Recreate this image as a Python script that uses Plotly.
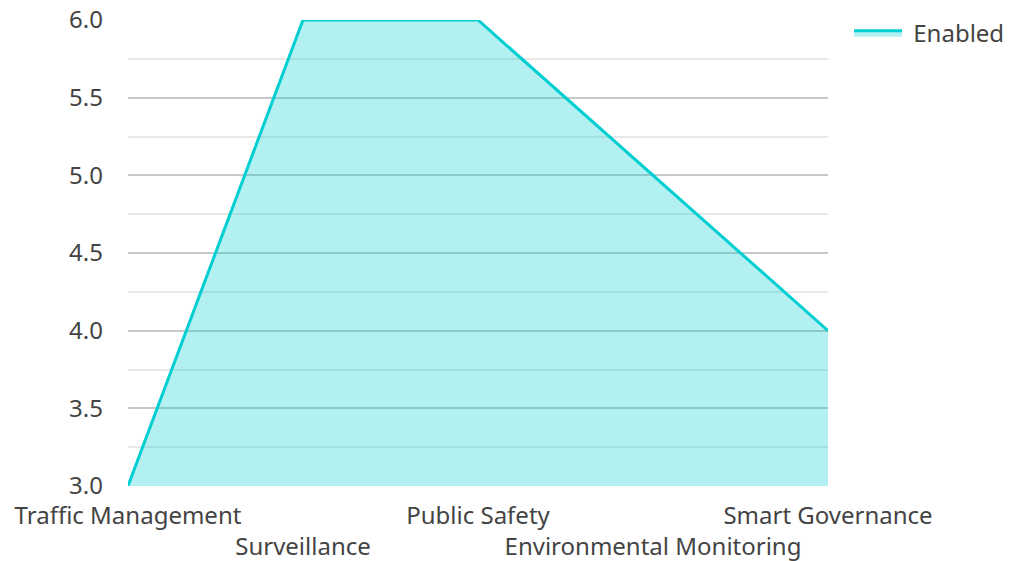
import plotly.graph_objects as go

categories = ["Traffic Management", "Surveillance", "Public Safety", "Environmental Monitoring", "Smart Governance"]
values = [3, 6, 6, 5, 4]
series_name = "Enabled"

ticktext = [c if i % 2 == 0 else "<br>" + c for i, c in enumerate(categories)]

fig = go.Figure()
fig.add_trace(go.Scatter(
    x=list(range(len(categories))), y=values, name="\u00a0" + series_name,
    mode="lines", line=dict(color="#00CED1", width=3),
    fill="tozeroy", fillcolor="rgba(0,206,209,0.3)",
))

fig.update_layout(
    width=1010, height=561,
    margin=dict(l=128, r=182, t=20, b=75, autoexpand=False),
    paper_bgcolor="white", plot_bgcolor="white",
    font=dict(family="Noto Sans", size=24, color="#444444"),
    showlegend=True,
    legend=dict(x=1.03, y=1.02, xanchor="left", yanchor="top", itemwidth=48,
                font=dict(size=24, color="#444444")),
    xaxis=dict(
        range=[0, 4], tickmode="array", tickvals=list(range(len(categories))),
        ticktext=ticktext, showgrid=False, zeroline=False, showline=False,
        ticks="", tickangle=0, automargin=False, tickfont=dict(size=24),
        ticklabelstandoff=13, ticklabeloverflow="allow",
    ),
    yaxis=dict(
        range=[3, 6], dtick=0.5, tickformat=".1f", showgrid=True,
        gridcolor="#c8c8c8", gridwidth=1.5, zeroline=False, showline=False,
        ticks="", ticklabelstandoff=24, automargin=False, tickfont=dict(size=24),
        ticklabeloverflow="allow",
        minor=dict(dtick=0.25, showgrid=True, gridcolor="#e8e8e8", gridwidth=1.5),
    ),
)

fig.write_html("out.html", config={"displayModeBar": False},
               post_script="document.body.style.margin='0';")
